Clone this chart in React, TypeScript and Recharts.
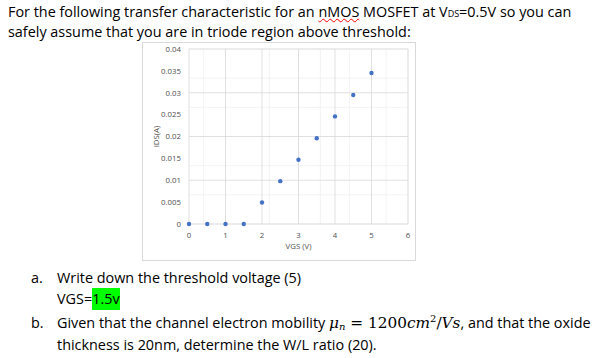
import React from 'react';
import { ScatterChart, Scatter, XAxis, YAxis, CartesianGrid, Label } from 'recharts';

const vgs = [0, 0.5, 1, 1.5, 2, 2.5, 3, 3.5, 4, 4.5, 5];
const ids = [0, 0, 0, 0, 0.0049, 0.0098, 0.0147, 0.0196, 0.0246, 0.0295, 0.0345];
const xTicks = [0, 1, 2, 3, 4, 5, 6];
const yTicks = [0, 0.005, 0.01, 0.015, 0.02, 0.025, 0.03, 0.035, 0.04];
const yTickLabels = ['0', '0.005', '0.01', '0.015', '0.02', '0.025', '0.03', '0.035', '0.04'];

const data = vgs.map((v, i) => ({ vgs: v, ids: ids[i] }));
const xMinor = Array.from({ length: 31 }, (_, i) => i * 0.2);
const yMinor = Array.from({ length: 25 }, (_, i) => (i * 0.04) / 24);

const textFont = '"Open Sans", sans-serif';
const mathFont = '"DejaVu Serif", serif';

const Dot = (props: any) => {
  const { cx, cy } = props;
  if (cx == null || cy == null) return null;
  return <circle cx={cx} cy={cy} r={2.2} fill="#4472C4" />;
};

export default function App() {
  const lineStyle: React.CSSProperties = {
    position: 'absolute',
    whiteSpace: 'nowrap',
    fontFamily: textFont,
    fontSize: 14.4,
    color: '#000',
    lineHeight: '20px',
  };
  return (
    <div style={{ position: 'absolute', left: 0, top: 0, width: 596, height: 358, background: '#fff', overflow: 'hidden' }}>
      <div style={{ ...lineStyle, left: 8, top: 2 }}>
        For the following transfer characteristic for an{' '}
        <span style={{ textDecoration: 'underline wavy red', textDecorationThickness: 1 }}>nMOS</span> MOSFET at V
        <span style={{ fontSize: 9 }}>DS</span>=0.5V so you can
      </div>
      <div style={{ ...lineStyle, left: 8, top: 22 }}>safely assume that you are in triode region above threshold:</div>

      <div style={{ position: 'absolute', left: 142, top: 42, width: 274, height: 219, border: '1px solid #d9d9d9', boxSizing: 'border-box', background: '#fff' }} />
      <div style={{ position: 'absolute', left: 142, top: 42 }}>
        <ScatterChart width={274} height={219} margin={{ top: 7, right: 8, bottom: 0, left: 0 }}>
          <CartesianGrid stroke="#f0f0f0" strokeWidth={0.8} horizontalValues={yMinor} verticalValues={xMinor} />
          <CartesianGrid stroke="#d9d9d9" strokeWidth={0.8} horizontalValues={yTicks} verticalValues={xTicks} />
          <XAxis
            type="number"
            dataKey="vgs"
            domain={[0, 6]}
            ticks={xTicks}
            axisLine={false}
            tickLine={false}
            height={37}
            tick={{ fontSize: 7.8, fill: '#505050', fontFamily: textFont }}
          >
            <Label value="VGS (V)" position="insideBottom" offset={12} style={{ fontSize: 7.8, fill: '#505050', fontFamily: textFont }} />
          </XAxis>
          <YAxis
            type="number"
            dataKey="ids"
            domain={[0, 0.04]}
            ticks={yTicks}
            tickFormatter={(v: number) => yTickLabels[yTicks.indexOf(v)] ?? String(v)}
            axisLine={false}
            tickLine={false}
            width={47}
            tick={{ fontSize: 7.8, fill: '#505050', fontFamily: textFont }}
          >
            <Label value="IDS(A)" angle={-90} position="insideLeft" offset={14} style={{ fontSize: 7.8, fill: '#505050', fontFamily: textFont, textAnchor: 'middle' }} />
          </YAxis>
          <Scatter data={data} shape={<Dot />} isAnimationActive={false} />
        </ScatterChart>
      </div>

      <div style={{ ...lineStyle, left: 31, top: 268 }}>a.</div>
      <div style={{ ...lineStyle, left: 57, top: 268 }}>Write down the threshold voltage (5)</div>
      <div style={{ ...lineStyle, left: 57, top: 288, lineHeight: '22px' }}>
        VGS=<span style={{ background: '#00ff00', display: 'inline-block', lineHeight: '22px' }}>1.5v</span>
      </div>
      <div style={{ ...lineStyle, left: 31, top: 313 }}>b.</div>
      <div style={{ ...lineStyle, left: 57, top: 313 }}>
        Given that the channel electron mobility{' '}
        <span style={{ fontFamily: mathFont, fontSize: 15.3 }}>
          <i>μ</i>
          <sub style={{ fontSize: 10, verticalAlign: '-2px', lineHeight: 0 }}><i>n</i></sub> = 1200<i>cm</i>
          <sup style={{ fontSize: 10, verticalAlign: '6px', lineHeight: 0 }}>2</sup>/<i>Vs</i>
        </span>
        , and that the oxide
      </div>
      <div style={{ ...lineStyle, left: 57, top: 335 }}>thickness is 20nm, determine the W/L ratio (20).</div>
    </div>
  );
}
